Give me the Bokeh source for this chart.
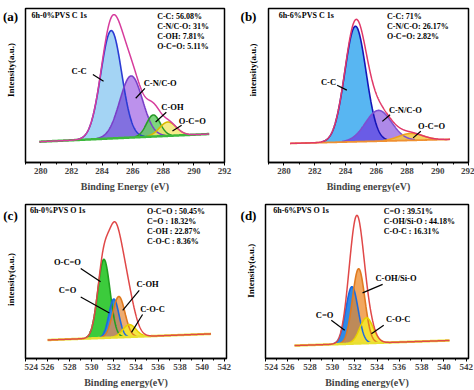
import numpy as np
from bokeh.plotting import figure
from bokeh.layouts import row, column
from bokeh.models import Range1d, FixedTicker, Label
from bokeh.embed import file_html
from bokeh.resources import INLINE

FONT = "Liberation Serif"

# ---------------- data ----------------
# (a) 6h-0%PVS  C 1s  -- fitted components (centre eV, height, sigma eV)
a_peaks = ["C-C", "C-N/C-O", "C-OH", "O-C=O"]
a_center = [284.6, 285.9, 287.35, 288.3]
a_height = [0.70, 0.40, 0.14, 0.09]
a_sigma = [0.68, 0.74, 0.45, 0.55]
a_baseline_x = [279.9, 291.0]
a_baseline_y = [0.135, 0.185]
a_shares = ["C-C: 56.08%", "C-N/C-O: 31%", "C-OH: 7.81%", "O-C=O: 5.11%"]

# (b) 6h-6%PVS  C 1s
b_peaks = ["C-C", "C-N/C-O", "O-C=O"]
b_center = [284.65, 286.15, 288.25]
b_height = [0.75, 0.20, 0.045]
b_sigma = [0.69, 0.85, 0.8]
b_baseline_x = [280.4, 290.8]
b_baseline_y = [0.124, 0.15]
b_shares = ["C-C: 71%", "C-N/C-O: 26.17%", "O-C=O: 2.82%"]

# (c) 6h-0%PVS  O 1s
c_peaks = ["O-C=O", "C=O", "C-OH", "C-O-C"]
c_center = [531.1, 532.0, 532.45, 533.4]
c_height = [0.51, 0.25, 0.265, 0.08]
c_sigma = [0.55, 0.45, 0.55, 0.6]
c_resid_center = [532.9, 531.7]      # envelope minus sum of components
c_resid_height = [0.25, 0.06]
c_resid_sigma = [0.75, 0.5]
c_baseline_x = [526.0, 540.8]
c_baseline_y = [0.12, 0.16]
c_shares = ["O-C=O : 50.45%", "C=O : 18.32%", "C-OH : 22.87%", "C-O-C : 8.36%"]

# (d) 6h-6%PVS  O 1s
d_peaks = ["C=O", "C-OH/Si-O", "C-O-C"]
d_center = [531.75, 532.35, 533.05]
d_height = [0.37, 0.485, 0.165]
d_sigma = [0.55, 0.55, 0.6]
d_resid_center = [532.25]
d_resid_height = [0.04]
d_resid_sigma = [0.4]
d_baseline_x = [526.6, 540.5]
d_baseline_y = [0.084, 0.117]
d_shares = ["C=O : 39.51%", "C-OH/Si-O : 44.18%", "C-O-C : 16.31%"]

c1s_ticks = [280, 282, 284, 286, 288, 290, 292]
c1s_minor = [279, 281, 283, 285, 287, 289, 291]
o1s_ticks = [524, 526, 528, 530, 532, 534, 536, 538, 540, 542]
o1s_minor = [525, 527, 529, 531, 533, 535, 537, 539, 541]


def gauss(x, c, h, s):
    return h * np.exp(-0.5 * ((x - c) / s) ** 2)


panels = [
    dict(tag="(a)", head="6h-0%PVS   C 1s", xlabel="Binding Energy (eV)", ylabel="Intensity(a.u.)",
         xr=(279.0, 292.0), ticks=c1s_ticks, minor=c1s_minor, border=(8, 13, 33, 25),
         names=a_peaks, center=a_center, height=a_height, sigma=a_sigma,
         rc=[], rh=[], rs=[], bx=a_baseline_x, by=a_baseline_y, shares=a_shares,
         fills=["#a4d4f4", "#b585ea", "#5ccb5c", "#f2e66a"],
         alphas=[1.0, 0.9, 0.8, 0.8],
         lines=["#2b3bd4", "#7a3fc8", "#2a9a2a", "#d8b800"],
         overlap=(0, 1, "#8270e0"), base_color="#3cb83c", base_w=2.5, env="#d63c9c",
         tag_xy=(10, 10), ylab_xy=(10, 78), head_x=279.4, share_x=287.6,
         labels=[(282.5, 0.593), (287.8, 0.513), (288.6, 0.36), (289.9, 0.269)],
         pointers=[(283.4, 0.572, 284.1, 0.528), (286.8, 0.481, 286.2, 0.417),
                   (288.2, 0.326, 287.5, 0.263), (289.2, 0.242, 288.6, 0.205)]),
    dict(tag="(b)", head="6h-6%PVS   C 1s", xlabel="Binding energy(eV)", ylabel="intensity(a.u.)",
         xr=(279.0, 292.0), ticks=c1s_ticks, minor=c1s_minor, border=(8, 6, 33, 31),
         names=b_peaks, center=b_center, height=b_height, sigma=b_sigma,
         rc=[], rh=[], rs=[], bx=b_baseline_x, by=b_baseline_y, shares=b_shares,
         fills=["#58b6f2", "#a57ce6", "#f5c842"],
         alphas=[1.0, 0.9, 0.85],
         lines=["#1515b8", "#7e4fd0", "#f0a020"],
         overlap=(0, 1, "#6a5ce6"), base_color="#f09030", base_w=1.8, env="#e03868",
         tag_xy=(11, 10), ylab_xy=(15, 78), head_x=279.66, share_x=286.7,
         labels=[(282.9, 0.523), (287.9, 0.342), (289.6, 0.235)],
         pointers=[(283.46, 0.502, 284.09, 0.47), (286.9, 0.31, 286.4, 0.267),
                   (288.9, 0.203, 288.4, 0.16)]),
    dict(tag="(c)", head="6h-0%PVS  O 1s", xlabel="Binding energy(eV)", ylabel="intensity(a.u.)",
         xr=(524.0, 542.2), ticks=o1s_ticks, minor=o1s_minor, border=(9, 11, 31, 25),
         names=c_peaks, center=c_center, height=c_height, sigma=c_sigma,
         rc=c_resid_center, rh=c_resid_height, rs=c_resid_sigma,
         bx=c_baseline_x, by=c_baseline_y, shares=c_shares,
         fills=["#3ccb3c", "#2e86e8", "#e89040", "#f2e530"],
         alphas=[1.0, 1.0, 0.75, 0.9],
         lines=["#1fa01f", "#1a6ae0", "#e07a20", "#e8d000"],
         overlap=None, base_color="#e8e030", base_w=2.5, env="#e04848",
         tag_xy=(10, 14), ylab_xy=(10, 95), head_x=524.4, share_x=535.0,
         labels=[(527.8, 0.629), (527.8, 0.443), (535.05, 0.483), (535.5, 0.323)],
         pointers=[(529.0, 0.585, 530.8, 0.498), (529.0, 0.40, 531.6, 0.295),
                   (534.3, 0.443, 532.8, 0.312), (534.6, 0.286, 533.6, 0.17)]),
    dict(tag="(d)", head="6h-6%PVS  O 1s", xlabel="Binding energy(eV)", ylabel="Intensity(a.u.)",
         xr=(524.0, 542.2), ticks=o1s_ticks, minor=o1s_minor, border=(9, 6, 31, 28),
         names=d_peaks, center=d_center, height=d_height, sigma=d_sigma,
         rc=d_resid_center, rh=d_resid_height, rs=d_resid_sigma,
         bx=d_baseline_x, by=d_baseline_y, shares=d_shares,
         fills=["#2e8ae8", "#ee8a2a", "#f5e530"],
         alphas=[1.0, 0.75, 0.9],
         lines=["#1a6ae0", "#e07a20", "#e8d000"],
         overlap=None, base_color="#e8e030", base_w=2.5, env="#e04848",
         tag_xy=(11, 14), ylab_xy=(13, 84), head_x=524.7, share_x=534.6,
         labels=[(529.3, 0.283), (535.7, 0.525), (535.9, 0.254)],
         pointers=[(529.9, 0.249, 531.1, 0.183), (534.5, 0.481, 532.7, 0.426),
                   (534.6, 0.216, 533.5, 0.161)]),
]

W, H = 237, 195


def lab(p, x, y, text, size="8px", align="left", angle=0.0):
    p.add_layout(Label(x=x, y=y, text=text, text_font=FONT, text_font_style="bold",
                       text_font_size=size, text_color="black", text_align=align,
                       text_baseline="middle", angle=angle))


def side(cfg):
    """narrow strip left of the frame holding the panel tag and the y-axis title"""
    w = cfg["border"][3] - 1
    p = figure(width=w, height=H, x_range=Range1d(0, w), y_range=Range1d(0, H),
               x_axis_location=None, y_axis_location=None, output_backend="svg",
               toolbar_location=None, title=None, min_border=0)
    p.grid.visible = False
    p.outline_line_color = None
    p.background_fill_color = "white"
    p.border_fill_color = "white"
    tx, ty = cfg["tag_xy"]
    lab(p, tx, H - ty, cfg["tag"], "13px", "center")
    yx, yy = cfg["ylab_xy"]
    lab(p, yx, H - yy, cfg["ylabel"], "9px", "center", angle=np.pi / 2)
    return p


def build(cfg):
    x0, x1 = cfg["xr"]
    top, right, bottom, left = cfg["border"]
    fh = H - top - bottom
    p = figure(width=W - (left - 1), height=H, x_range=Range1d(x0, x1), y_range=Range1d(0, 1),
               y_axis_location=None, output_backend="svg", toolbar_location=None, title=None,
               min_border_top=top, min_border_right=right,
               min_border_bottom=bottom, min_border_left=1)
    p.grid.visible = False
    p.outline_line_color = "black"
    p.outline_line_width = 1.5
    p.background_fill_color = "white"
    p.border_fill_color = "white"

    ax = p.xaxis[0]
    ax.ticker = FixedTicker(ticks=cfg["ticks"], minor_ticks=cfg["minor"])
    ax.axis_label = cfg["xlabel"]
    ax.axis_label_text_font = FONT
    ax.axis_label_text_font_style = "bold"
    ax.axis_label_text_font_size = "10px"
    ax.axis_label_standoff = 4
    ax.major_label_text_font = FONT
    ax.major_label_text_font_style = "bold"
    ax.major_label_text_font_size = "9px"
    ax.major_label_standoff = 2
    ax.axis_line_color = "black"
    ax.axis_line_width = 1.5
    ax.major_tick_in = 0
    ax.major_tick_out = 3
    ax.minor_tick_in = 0
    ax.minor_tick_out = 2
    ax.major_tick_line_color = "black"
    ax.minor_tick_line_color = "black"

    xs = np.linspace(cfg["bx"][0], cfg["bx"][1], 800)
    base = np.interp(xs, cfg["bx"], cfg["by"])
    comps = [gauss(xs, c, h, s) for c, h, s in zip(cfg["center"], cfg["height"], cfg["sigma"])]
    resid = [gauss(xs, c, h, s) for c, h, s in zip(cfg["rc"], cfg["rh"], cfg["rs"])]
    env = base + sum(comps) + (sum(resid) if resid else 0)

    for i, g in enumerate(comps):
        p.varea(x=xs, y1=base, y2=base + g, fill_color=cfg["fills"][i],
                fill_alpha=cfg["alphas"][i])
        if cfg["overlap"] is not None and i == cfg["overlap"][1]:
            a, b, col = cfg["overlap"]
            p.varea(x=xs, y1=base, y2=base + np.minimum(comps[a], comps[b]),
                    fill_color=col, fill_alpha=1.0)
    for i, g in enumerate(comps):
        yl = np.where(g > 0.004, base + g, np.nan)
        p.line(xs, yl, line_color=cfg["lines"][i], line_width=1.6)
    p.line(xs, base, line_color=cfg["base_color"], line_width=cfg["base_w"])
    p.line(xs, env, line_color=cfg["env"], line_width=1.5)

    p.segment(x0=[q[0] for q in cfg["pointers"]], y0=[q[1] for q in cfg["pointers"]],
              x1=[q[2] for q in cfg["pointers"]], y1=[q[3] for q in cfg["pointers"]],
              line_color="black", line_width=1.2)
    for (lx, ly), name in zip(cfg["labels"], cfg["names"]):
        lab(p, lx, ly, name, "8.5px", "center")

    lab(p, cfg["head_x"], 1 - 6.5 / fh, cfg["head"], "8px")
    for k, s in enumerate(cfg["shares"]):
        lab(p, cfg["share_x"], 1 - (7.5 + 10 * k) / fh, s, "8px")
    return p


rows = []
for pair in (panels[:2], panels[2:]):
    items = []
    for cfg in pair:
        items += [side(cfg), build(cfg)]
    rows.append(row(*items))
layout = column(*rows)

open("out.html", "w").write(file_html(layout, INLINE))
